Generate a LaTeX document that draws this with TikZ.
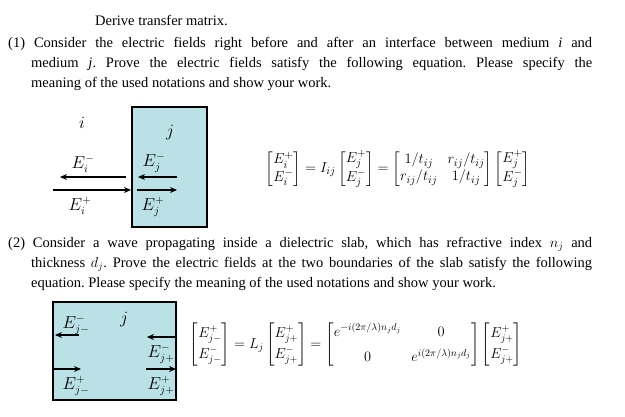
\documentclass[tikz,border=0pt]{standalone}
\usepackage{amsmath}
\usepackage{fontspec}
\setmainfont{Liberation Serif}
\usetikzlibrary{arrows.meta}
\definecolor{slab}{HTML}{B9E1E6}
\frenchspacing
\newcommand\nofill{\parfillskip 0pt\relax}
\tikzset{
  ln/.style={anchor=west,inner sep=0pt,font=\fontsize{14.5}{18}\selectfont},
  jl/.style={ln,text width=#1,align=justify,execute at begin node={\nofill}},
  arr/.style={-{Stealth[length=7pt,width=6pt]},line width=1.1pt},
  lab/.style={inner sep=0pt,font=\fontsize{16}{18}\selectfont},
  slabbox/.style={draw,line width=1.3pt,fill=slab}
}
\begin{document}
\begin{tikzpicture}[x=1pt,y=-1pt]
\useasboundingbox (0,0) rectangle (625,417);
\node[ln] (t0) at (95,20) {Derive transfer matrix.};
\node[jl=584pt] (t1) at (8,44) {(1) Consider the electric fields right before and after an interface between medium \textit{i} and};
\node[jl=561pt] (t2) at (31,64) {medium \textit{j}. Prove the electric fields satisfy the following equation. Please specify the};
\node[ln] (t3) at (31,84) {meaning of the used notations and show your work.};
% top diagram
\node[slabbox,minimum width=75pt,minimum height=120pt,inner sep=0pt] (b1) at (169.5,167) {};
\node[lab] (li) at (82,123) {$i$};
\node[lab] (lj) at (170,133) {$j$};
\coordinate (a1s) at (126,177); \coordinate (a1e) at (60,177);
\coordinate (a2s) at (177,177); \coordinate (a2e) at (138,177);
\coordinate (a3s) at (53,190); \coordinate (a3e) at (131,190);
\coordinate (a4s) at (137,190); \coordinate (a4e) at (177,190);
\draw[arr] (a1s) -- (a1e); \draw[arr] (a2s) -- (a2e);
\draw[arr] (a3s) -- (a3e); \draw[arr] (a4s) -- (a4e);
\node[lab] (e1) at (83,164) {$E_i^-$};
\node[lab] (e2) at (154,163) {$E_j^-$};
\node[lab] (e3) at (80,206) {$E_i^+$};
\node[lab] (e4) at (153,207) {$E_j^+$};
\node (eq1) at (398,169) {\fontsize{15}{17}\selectfont$\begin{bmatrix}E_i^+\\E_i^-\end{bmatrix}=I_{ij}\begin{bmatrix}E_j^+\\E_j^-\end{bmatrix}=\begin{bmatrix}1/t_{ij} & r_{ij}/t_{ij}\\ r_{ij}/t_{ij} & 1/t_{ij}\end{bmatrix}\begin{bmatrix}E_j^+\\E_j^-\end{bmatrix}$};
% part 2
\node[jl=584pt] (s1) at (8,244) {(2) Consider a wave propagating inside a dielectric slab, which has refractive index $n_j$ and};
\node[jl=561pt] (s2) at (31,264) {thickness $d_j$. Prove the electric fields at the two boundaries of the slab satisfy the following};
\node[ln] (s3) at (31,284) {equation. Please specify the meaning of the used notations and show your work.};
\node[slabbox,minimum width=123pt,minimum height=98pt,inner sep=0pt] (b2) at (114.5,351) {};
\node[lab] (lj2) at (124,320) {$j$};
\coordinate (c1s) at (79,335); \coordinate (c1e) at (55,335);
\coordinate (c2s) at (176,337); \coordinate (c2e) at (147,337);
\coordinate (c3s) at (53,369); \coordinate (c3e) at (81,369);
\coordinate (c4s) at (146,369); \coordinate (c4e) at (176,369);
\draw[arr] (c1s) -- (c1e); \draw[arr] (c2s) -- (c2e);
\draw[arr] (c3s) -- (c3e); \draw[arr] (c4s) -- (c4e);
\node[lab] (f1) at (76,325) {$E_{j-}^-$};
\node[lab] (f2) at (161,354) {$E_{j+}^-$};
\node[lab] (f3) at (76,386) {$E_{j-}^+$};
\node[lab] (f4) at (161,386) {$E_{j+}^+$};
\node (eq2) at (356,345) {\fontsize{14}{16}\selectfont$\begin{bmatrix}E_{j-}^+\\[5pt]E_{j-}^-\end{bmatrix}=L_j\begin{bmatrix}E_{j+}^+\\[5pt]E_{j+}^-\end{bmatrix}=\begin{bmatrix}e^{-i(2\pi/\lambda)n_jd_j} & 0\\[8pt] 0 & e^{i(2\pi/\lambda)n_jd_j}\end{bmatrix}\begin{bmatrix}E_{j+}^+\\[5pt]E_{j+}^-\end{bmatrix}$};
\end{tikzpicture}
\end{document}
